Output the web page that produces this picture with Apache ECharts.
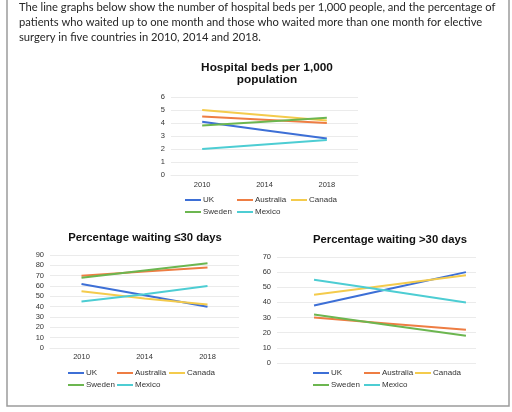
<!DOCTYPE html>
<html>
<head>
    <meta charset="utf-8">
    <title>Hospital beds and waiting times</title>
    <script type="text/javascript" src="https://cdn.jsdelivr.net/npm/echarts@6/dist/echarts.min.js"></script>
    <style type="text/css">
        html, body { margin: 0; padding: 0; background: #fff; }
        #main { width: 512px; height: 412px; }
    </style>
</head>
<body>
    <div id="main"></div>
    <script type="text/javascript">
        // data
        var years = ['2010', '2014', '2018'];
        var countries = ['UK', 'Australia', 'Canada', 'Sweden', 'Mexico'];
        var colors = ['#3d6fd6', '#ee7d43', '#f4cb4c', '#6cb650', '#4dcdd3'];

        var bedsUK = [4.1, 3.45, 2.8];
        var bedsAustralia = [4.5, 4.25, 4.0];
        var bedsCanada = [5.0, 4.6, 4.2];
        var bedsSweden = [3.8, 4.1, 4.4];
        var bedsMexico = [2.0, 2.35, 2.7];

        var shortUK = [62, 51, 40];
        var shortAustralia = [70, 74, 78];
        var shortCanada = [55, 48, 42];
        var shortSweden = [68, 75, 82];
        var shortMexico = [45, 52, 60];

        var longUK = [38, 49, 60];
        var longAustralia = [30, 26, 22];
        var longCanada = [45, 51.5, 58];
        var longSweden = [32, 25, 18];
        var longMexico = [55, 47.5, 40];

        var paragraph = [
            'The line graphs below show the number of hospital beds per 1,000 people, and the percentage of',
            'patients who waited up to one month and those who waited more than one month for elective',
            'surgery in five countries in 2010, 2014 and 2018.'
        ];

        var beds = [bedsUK, bedsAustralia, bedsCanada, bedsSweden, bedsMexico];
        var shortWait = [shortUK, shortAustralia, shortCanada, shortSweden, shortMexico];
        var longWait = [longUK, longAustralia, longCanada, longSweden, longMexico];

        var labelFont = 'Liberation Sans';
        var gridColor = '#ebebeb';

        var chart = echarts.init(document.getElementById('main'));

        function yAxisFor(i, max) {
            return {
                type: 'value', gridIndex: i, min: 0, max: max, interval: max > 10 ? 10 : 1,
                axisLine: { show: false }, axisTick: { show: false },
                axisLabel: { fontFamily: labelFont, fontSize: 7.5, color: '#333', margin: 6 },
                splitLine: { lineStyle: { color: gridColor, width: 1 } }
            };
        }

        var series = [];
        function addSeries(sets, axisIdx, numeric) {
            for (var k = 0; k < countries.length; k++) {
                var d = sets[k].map(function (v, j) {
                    return numeric ? [Number(years[j]), v] : v;
                });
                series.push({
                    name: countries[k], type: 'line', xAxisIndex: axisIdx, yAxisIndex: axisIdx,
                    data: d, symbol: 'none', color: colors[k],
                    lineStyle: { width: 2 }, silent: true
                });
            }
        }
        addSeries(beds, 0, false);
        addSeries(shortWait, 1, false);
        addSeries(longWait, 2, true);

        // legend items laid out in columns like the original
        var legends = [];
        function addLegend(x0, cols, y0) {
            countries.forEach(function (name, i) {
                legends.push({
                    data: [name], left: x0 + cols[i % 3], top: y0 + Math.floor(i / 3) * 12 - 5,
                    icon: 'rect', itemWidth: 16, itemHeight: 2, padding: 0,
                    textStyle: { fontFamily: labelFont, fontSize: 8, color: '#333', padding: [0, 0, 0, -3] },
                    selectedMode: false
                });
            });
        }
        addLegend(185, [0, 52, 106], 201);
        addLegend(68, [0, 49, 101], 374);
        addLegend(313, [0, 51, 102], 374);

        var graphics = paragraph.map(function (line, i) {
            return {
                type: 'text', left: 19, top: 2 + i * 15,
                style: { text: line, font: '11.2px Lato', fill: '#262626' }
            };
        });
        graphics.push({
            type: 'polyline',
            shape: { points: [[7, 0], [7, 406], [509, 406], [509, 0]] },
            style: { stroke: '#9c9c9c', lineWidth: 1.5, fill: null }
        });

        var titleStyle = { fontFamily: labelFont, fontSize: 11.8, fontWeight: 'bold', color: '#111', lineHeight: 12 };
        var subTitleStyle = { fontFamily: labelFont, fontSize: 11.3, fontWeight: 'bold', color: '#111' };

        var option = {
            animation: false,
            title: [
                { text: 'Hospital beds per 1,000\npopulation', left: 262, top: 57, textAlign: 'center', textStyle: titleStyle },
                { text: 'Percentage waiting \u226430 days', left: 140, top: 227, textAlign: 'center', textStyle: subTitleStyle },
                { text: 'Percentage waiting >30 days', left: 385, top: 229, textAlign: 'center', textStyle: subTitleStyle }
            ],
            grid: [
                { left: 171, right: 154, top: 97, bottom: 237 },
                { left: 50, right: 273, top: 255, bottom: 64 },
                { left: 277, right: 36, top: 257, bottom: 49 }
            ],
            xAxis: [
                {
                    type: 'category', gridIndex: 0, data: years,
                    axisLine: { lineStyle: { color: gridColor } }, axisTick: { show: false },
                    axisLabel: { fontFamily: labelFont, fontSize: 7.5, color: '#333', margin: 6 }
                },
                {
                    type: 'category', gridIndex: 1, data: years,
                    axisLine: { lineStyle: { color: gridColor } }, axisTick: { show: false },
                    axisLabel: { fontFamily: labelFont, fontSize: 7.5, color: '#333', margin: 5 }
                },
                {
                    type: 'value', gridIndex: 2, min: 2008.05, max: 2018.53,
                    axisLine: { show: false }, axisTick: { show: false },
                    axisLabel: { show: false }, splitLine: { show: false }
                }
            ],
            yAxis: [yAxisFor(0, 6), yAxisFor(1, 90), yAxisFor(2, 70)],
            legend: legends,
            graphic: graphics,
            series: series
        };

        chart.setOption(option);
    </script>
</body>
</html>
